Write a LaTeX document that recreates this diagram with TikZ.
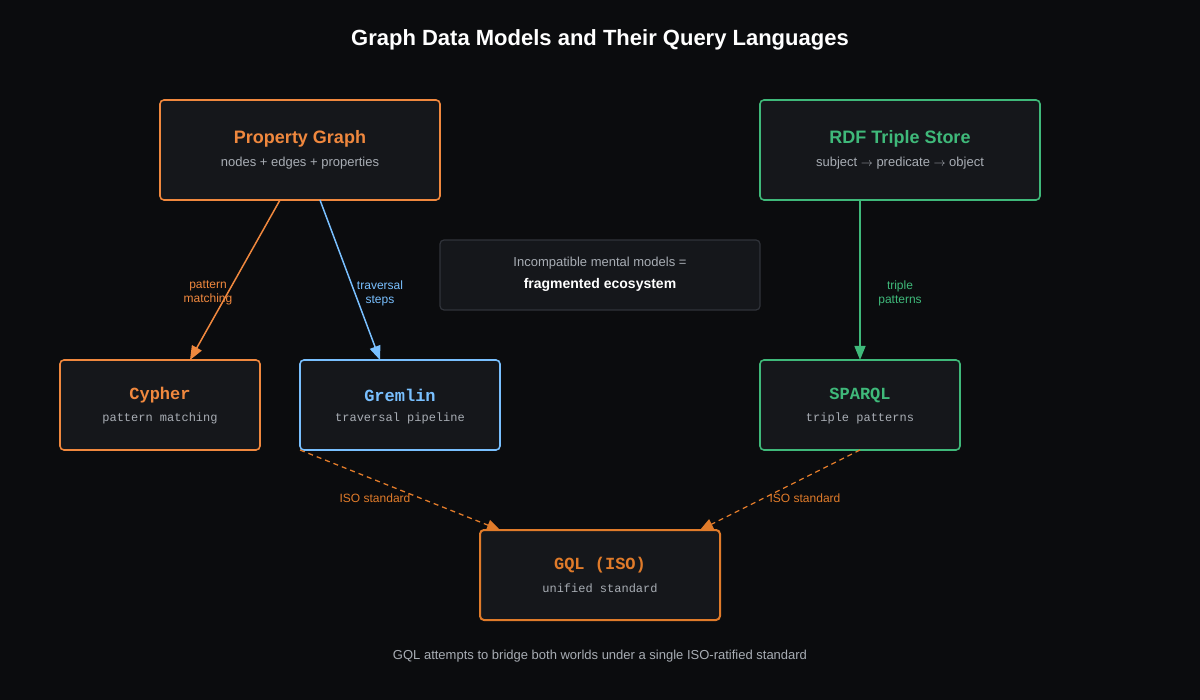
\documentclass[tikz,border=0pt]{standalone}
\usepackage{fontspec}
\setmainfont{Liberation Sans}
\setmonofont{Liberation Mono}
\usetikzlibrary{arrows.meta}
\definecolor{bg}{HTML}{0B0C0E}
\definecolor{boxfill}{HTML}{15171B}
\definecolor{pgorange}{HTML}{F0883E}
\definecolor{gqlorange}{HTML}{E07B2A}
\definecolor{rdfgreen}{HTML}{3FB97A}
\definecolor{gremblue}{HTML}{79C0FF}
\definecolor{subgrey}{HTML}{A8ADB4}
\definecolor{midgrey}{HTML}{30333A}
\begin{document}
\begin{tikzpicture}[x=1pt,y=-1pt,
	box/.style={fill=boxfill, rounded corners=4pt, line width=1.6pt},
	ttl/.style={font=\fontsize{18}{20}\selectfont\bfseries},
	mttl/.style={font=\fontsize{17}{19}\selectfont\ttfamily\bfseries},
	sub/.style={text=subgrey, font=\fontsize{13}{15}\selectfont},
	msub/.style={text=subgrey, font=\fontsize{12}{14}\selectfont\ttfamily},
	lbl/.style={font=\fontsize{12}{14}\selectfont, align=center},
	arr/.style={-{Triangle[length=14pt,width=11pt]}, line width=1.5pt},
	darr/.style={-{Triangle[length=13pt,width=11pt]}, line width=1.3pt, dash pattern=on 5pt off 4pt, gqlorange}]
	\fill[bg] (0,0) rectangle (1200,700);
	\node[text=white, font=\fontsize{22}{26}\selectfont\bfseries] (title) at (600,40) {Graph Data Models and Their Query Languages};
	% model boxes
	\draw[box, draw=pgorange] (160,100) rectangle (440,200);
	\node[ttl, text=pgorange] (pgt) at (300,139) {Property Graph};
	\node[sub] (pgs) at (300,163) {nodes + edges + properties};
	\draw[box, draw=rdfgreen] (760,100) rectangle (1040,200);
	\node[ttl, text=rdfgreen] (rdft) at (900,139) {RDF Triple Store};
	\node[sub] (rdfs) at (900,163) {subject $\rightarrow$ predicate $\rightarrow$ object};
	\draw[box, draw=midgrey, line width=1.2pt] (440,240) rectangle (760,310);
	\node[sub] (midt) at (600,263) {Incompatible mental models =};
	\node[text=white, font=\fontsize{14}{16}\selectfont\bfseries] (mids) at (600,285) {fragmented ecosystem};
	% language boxes
	\draw[box, draw=pgorange] (60,360) rectangle (260,450);
	\node[mttl, text=pgorange] at (160,395) {Cypher};
	\node[msub] at (160,418) {pattern matching};
	\draw[box, draw=gremblue] (300,360) rectangle (500,450);
	\node[mttl, text=gremblue] at (400,395) {Gremlin};
	\node[msub] at (400,418) {traversal pipeline};
	\draw[box, draw=rdfgreen] (760,360) rectangle (960,450);
	\node[mttl, text=rdfgreen] at (860,395) {SPARQL};
	\node[msub] at (860,418) {triple patterns};
	\draw[box, draw=gqlorange, line width=2pt] (480,530) rectangle (720,620);
	\node[mttl, text=gqlorange] at (600,565) {GQL (ISO)};
	\node[msub] at (600,588) {unified standard};
	% anchors
	\coordinate (pgA) at (280,200); \coordinate (cyT) at (190,360);
	\coordinate (pgB) at (320,200); \coordinate (grT) at (380,360);
	\coordinate (rdfB) at (860,200); \coordinate (spT) at (860,360);
	\coordinate (grB) at (300,450); \coordinate (gqA) at (500,530);
	\coordinate (spB) at (860,450); \coordinate (gqB) at (700,530);
	\draw[arr, pgorange] (pgA) -- (cyT);
	\draw[arr, gremblue] (pgB) -- (grT);
	\draw[arr, rdfgreen] (rdfB) -- (spT);
	\draw[darr] (grB) -- (gqA);
	\draw[darr] (spB) -- (gqB);
	\node[lbl, text=pgorange] at (208,293) {pattern\\matching};
	\node[lbl, text=gremblue] at (380,293) {traversal\\steps};
	\node[lbl, text=rdfgreen] at (900,293) {triple\\patterns};
	\node[lbl, text=gqlorange] at (375,498) {ISO standard};
	\node[lbl, text=gqlorange] at (805,498) {ISO standard};
	\node[sub] (foot) at (600,656) {GQL attempts to bridge both worlds under a single ISO-ratified standard};
\end{tikzpicture}
\end{document}
